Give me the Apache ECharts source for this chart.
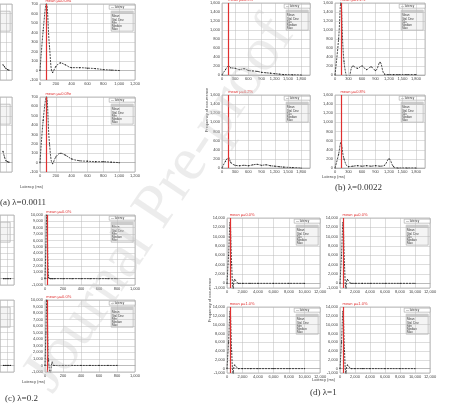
<!DOCTYPE html>
<html><head><meta charset="utf-8">
<script src="https://cdn.jsdelivr.net/npm/echarts@6/dist/echarts.min.js"></script>
<style>html,body{margin:0;background:#fff}#c{width:474px;height:413px}</style>
</head><body><div id="c"></div>
<script>
// latency (ms) sample points and frequencies
const latA = [0, 40, 80, 120, 160, 200, 260, 320, 400, 500, 600, 700, 800, 900, 1000];
const freqA1 = [0, 420, 700, 250, -20, 40, 80, 60, 30, 30, 25, 20, 10, 5, 0];
const freqA2 = [0, 450, 700, 200, -10, 60, 100, 80, 40, 20, 15, 10, 10, 5, 0];
const latB = [0, 80, 150, 200, 300, 400, 500, 600, 700, 800, 900, 1000, 1100, 1200, 1300, 1400, 1600, 1800];
const freqB1 = [0, 120, 200, 160, 150, 120, 140, 100, 90, 80, 60, 50, 40, 30, 20, 10, 5, 0];
const freqB2 = [0, 150, 230, 120, 60, 50, 60, 50, 70, 80, 60, 70, 50, 40, 30, 20, 10, 0];
const latB3 = [0, 80, 130, 200, 300, 400, 500, 600, 700, 800, 900, 1000, 1100, 1200, 1300, 1400, 1600, 1800];
const freqB3 = [0, 800, 1600, 300, -100, 200, 150, 200, 120, 180, 100, 280, 20, 10, 10, 10, 10, 10];
const freqB4 = [0, 300, 550, 200, 30, 40, 50, 40, 50, 40, 50, 40, 60, 200, 30, 0, 0, 0];
const latC = [0, 10, 20, 40, 60, 80, 100, 200, 300, 400, 500, 600, 700, 800];
const freqC1 = [0, 5000, 10000, 200, 0, 0, 0, 0, 0, 0, 0, 0, 0, 0];
const freqC2 = [0, 5000, 10000, 800, -1200, 500, 0, 0, 0, 0, 0, 0, 0, 0];
const latD = [0, 200, 400, 600, 800, 1000, 1500, 2000, 3000, 4000, 6000, 8000, 10000];
const freqD = [0, 6000, 13000, 4000, -1000, 800, 0, 0, 0, 0, 0, 0, 0];
// tails of the panels cut off at the left edge
const latTail = [900, 950, 1000, 1050, 1100];
const freqTailA = [60, 40, 20, 10, 5];
const freqTailA2 = [120, 60, 20, 10, 5];
const freqTailC = [0, 0, 0, 0, 0];
const meanLabels = ["mean μ=0.094", "mean μ=0.09e", "mean μ=0.3%", "mean μ=0.2%", "mean μ=1.1%", "mean μ=0.8%",
  "mean μ=0.0%", "mean μ=0.0%", "mean μ=0.0%", "mean μ=1.0%", "mean μ=0.0%", "mean μ=1.0%"];
const statNames = ["Mean", "Std. Dev.", "Min", "Median", "Max"];
const captions = ["(a) λ=0.0011", "(b) λ=0.0022", "(c) λ=0.2", "(d) λ=1"];

// panel layout: [left, top, width, height, xmin, xmax, ymin, ymax, lat, freq, meanX]
const panels = [
  [40, 4, 95, 76, 0, 1200, -100, 700, latA, freqA1, 80],
  [40, 97, 95, 75, 0, 1200, -100, 700, latA, freqA2, 80],
  [222, 3, 88, 72, 0, 2000, 0, 1600, latB, freqB1, 150],
  [222, 95, 88, 73, 0, 2000, 0, 1600, latB, freqB2, 150],
  [335, 3, 90, 72, 0, 2000, 0, 1600, latB3, freqB3, 130],
  [335, 95, 90, 73, 0, 2000, 0, 1600, latB3, freqB4, 130],
  [45, 215, 90, 70, 0, 1000, -1000, 10000, latC, freqC1, 20],
  [45, 300, 90, 72, 0, 1000, -1000, 10000, latC, freqC2, 20],
  [227, 218, 93, 70, 0, 12000, -1000, 14000, latD, freqD, 400],
  [227, 307, 93, 66, 0, 12000, -1000, 14000, latD, freqD, 400],
  [340, 218, 90, 70, 0, 12000, -1000, 14000, latD, freqD, 400],
  [340, 307, 90, 66, 0, 12000, -1000, 14000, latD, freqD, 400],
  [0, 4, 12, 76, 800, 1200, -100, 700, latTail, freqTailA, null],
  [0, 97, 12, 75, 800, 1200, -100, 700, latTail, freqTailA2, null],
  [0, 215, 14, 70, 800, 1200, -1000, 10000, latTail, freqTailC, null],
  [0, 300, 14, 72, 800, 1200, -1000, 10000, latTail, freqTailC, null]
];

const chart = echarts.init(document.getElementById('c'));
const grid = [], xAxis = [], yAxis = [], series = [], graphic = [];
const tick = { fontSize: 4, color: '#444', margin: 2 };
panels.forEach((p, i) => {
  const [l, t, w, h, xmin, xmax, ymin, ymax, lat, freq, mx] = p;
  const cut = mx === null;
  grid.push({ left: l, top: t, width: w, height: h, show: true, borderColor: '#999', borderWidth: 0.6 });
  xAxis.push({ gridIndex: i, type: 'value', min: xmin, max: xmax, splitNumber: cut ? 2 : 6,
    axisLabel: cut ? { show: false } : tick, axisTick: { show: false }, axisLine: { lineStyle: { color: '#999', width: 0.5 } },
    splitLine: { lineStyle: { color: '#bbb', width: 0.5 } } });
  yAxis.push({ gridIndex: i, type: 'value', min: ymin, max: ymax, splitNumber: 8,
    axisLabel: cut ? { show: false } : tick, axisTick: { show: false }, axisLine: { show: false },
    splitLine: { lineStyle: { color: '#bbb', width: 0.5 } } });
  const s = { type: 'line', xAxisIndex: i, yAxisIndex: i, symbol: 'circle', symbolSize: 1.2,
    smooth: 0.4, data: lat.map((x, k) => [x, freq[k]]),
    lineStyle: { color: '#222', width: 0.8, type: [2, 1] }, itemStyle: { color: '#222' } };
  if (!cut) s.markLine = { silent: true, symbol: 'none', lineStyle: { color: '#e03030', width: 1.2, type: 'solid' },
    label: { show: true, position: 'end', formatter: meanLabels[i], color: '#e03030', fontSize: 4, offset: [12, 4] },
    data: [{ xAxis: mx }] };
  series.push(s);
  // legend box and stats table top-right
  const bx = l + w - 24;
  if (cut) {
    graphic.push({ type: 'rect', left: 0, top: t + 7, shape: { width: 10, height: 20 },
      style: { fill: '#f4f4f4', stroke: '#777', lineWidth: 0.4 } });
    return;
  }
  graphic.push({ type: 'rect', left: bx - 2, top: t + 1, shape: { width: 26, height: 4 },
    style: { fill: '#fff', stroke: '#777', lineWidth: 0.4 } });
  graphic.push({ type: 'text', left: bx, top: t + 1.5, style: { text: '— latency', fontSize: 3, fill: '#333' } });
  graphic.push({ type: 'rect', left: bx, top: t + 7, shape: { width: 22, height: 20 },
    style: { fill: '#f4f4f4', stroke: '#777', lineWidth: 0.4 } });
  graphic.push({ type: 'rect', left: bx, top: t + 7, shape: { width: 22, height: 3 },
    style: { fill: '#ccc' } });
  graphic.push({ type: 'text', left: bx + 1, top: t + 11, style: {
    text: statNames.join('\n'), fontSize: 3, lineHeight: 3.2, fill: '#333' } });
});
const capPos = [[0, 198], [335, 183], [5, 394], [310, 388]];
captions.forEach((c, i) => graphic.push({ type: 'text', left: capPos[i][0], top: capPos[i][1],
  style: { text: c, fontSize: 9, fontFamily: 'Liberation Serif', fill: '#333' } }));
graphic.push({ type: 'text', left: 322, top: 175, style: { text: 'Latency (ms)', fontSize: 4, fill: '#444' } });
graphic.push({ type: 'text', left: 312, top: 378, style: { text: 'Latency (ms)', fontSize: 4, fill: '#444' } });
graphic.push({ type: 'text', left: 20, top: 185, style: { text: 'Latency (ms)', fontSize: 4, fill: '#444' } });
graphic.push({ type: 'text', left: 22, top: 380, style: { text: 'Latency (ms)', fontSize: 4, fill: '#444' } });
graphic.push({ type: 'text', x: 205, y: 110, rotation: Math.PI / 2, style: { text: 'Frequency of occurrence', fontSize: 4, fill: '#444', align: 'center' } });
graphic.push({ type: 'text', x: 208, y: 300, rotation: Math.PI / 2, style: { text: 'Frequency of occurrence', fontSize: 4, fill: '#444', align: 'center' } });
graphic.push({ type: 'text', x: 160, y: 205, rotation: 0.98, z: 100, style: { text: 'Journal Pre-proof',
  fontSize: 62, fontFamily: 'Liberation Serif', fill: 'rgba(200,200,200,0.35)', align: 'center', verticalAlign: 'middle' } });

chart.setOption({ animation: false, grid, xAxis, yAxis, series, graphic });
</script></body></html>
